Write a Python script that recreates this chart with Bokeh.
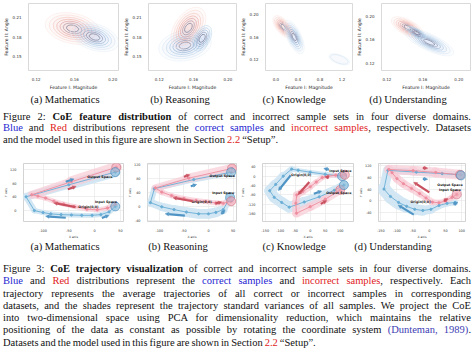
from bokeh.plotting import figure
from bokeh.layouts import column, row
from bokeh.models import Range1d, FixedTicker, Div, Arrow, NormalHead, PrintfTickFormatter
from bokeh.core.properties import value
from bokeh.embed import file_html
from bokeh.resources import INLINE

# ---------------- Figure 2 data (KDE contour blobs, outermost ellipse) ----------------
# (kind, cx, cy, width, height, angle_deg, first_level, last_level)
kde_math = [("red", 0.158, 0.193, 0.058, 0.046, -12, 0, 7),
            ("blue", 0.181, 0.180, 0.052, 0.040, -18, 0, 7)]
kde_reason = [("blue", 0.150, 0.167, 0.062, 0.046, 10, 0, 7),
              ("red", 0.154, 0.194, 0.054, 0.042, 55, 0, 7),
              ("blue", 0.170, 0.178, 0.046, 0.034, 62, 2, 7)]
kde_know = [("red", 0.13, 0.178, 0.50, 0.024, -50, 0, 7),
            ("blue", 0.33, 0.160, 0.66, 0.026, -65, 0, 7),
            ("blue", 1.15, 0.120, 0.40, 0.016, -20, 0, 2)]
kde_under = [("red", 0.143, 0.181, 0.040, 0.026, -28, 0, 7),
             ("blue", 0.167, 0.156, 0.060, 0.028, -25, 0, 7),
             ("blue", 0.153, 0.172, 0.034, 0.020, -30, 2, 7)]
kde_xlim = [(0.112, 0.206), (0.1075, 0.210), (-0.19, 1.39), (0.114, 0.213)]
kde_ylim = [(0.129, 0.231), (0.129, 0.231), (0.10, 0.22), (0.108, 0.222)]
kde_xticks = [[0.12, 0.16, 0.20], [0.12, 0.16, 0.20], [0.0, 0.4, 0.8, 1.2], [0.12, 0.16, 0.20]]
kde_yticks = [[0.15, 0.18, 0.21], [0.15, 0.18, 0.21], [0.12, 0.16, 0.20], [0.12, 0.16, 0.20]]
kde_xfmt = ["%.2f", "%.2f", "%.1f", "%.2f"]
level_scale = [1.0, 0.85, 0.71, 0.58, 0.46, 0.34, 0.22]
red_levels = ["#fce8e4", "#f9d6cf", "#f4c0b6", "#eaa79e", "#d99492", "#a0808f", "#5a5f7c"]
blue_levels = ["#e8f1f8", "#d3e4f2", "#bad4ea", "#9fc2df", "#8aaace", "#6f85a8", "#5a5f7c"]

# ---------------- Figure 3 data (trajectories) ----------------
math_blue_x = [40, 28, 12, -5, -25, -45, -65, -85, -100, -117, -133, -50, 40]
math_blue_y = [12, -4, -12, -14, -14, -13, -12, -10, -6, 0, 40, 75, 112]
math_blue_sd = [8, 6, 6, 6, 6, 6, 6, 6, 6, 7, 8, 11, 14]
math_red_x = [40, 25, 5, -15, -40, -60, -79, -95, -110, -122, -45, 42]
math_red_y = [18, 7, 2, 4, 12, 19, 27, 36, 42, 46, 84, 126]
math_red_sd = [8, 6, 6, 6, 6, 6, 6, 6, 7, 8, 12, 15]
math_arrows = [(-56, 84, -40, 92, "blue"), (-52, 62, -36, 70, "red"), (-37, 10, -79, 22, "red"),
               (-56, -21, -95, -17, "blue"), (14, -22, 28, -14, "blue")]
math_notes = [("Output Space", 10, 98), ("Input Space", 22, 26), ("Origin(0,0)", -12, 11)]
math_ends = [(42, 126, "red"), (40, 112, "blue"), (40, 12, "blue")]

reason_blue_x = [44, 30, 15, 0, -20, -45, -70, -95, -118, -110, -30, 46]
reason_blue_y = [25, -10, -18, -22, -22, -17, -10, -2, 10, 50, 76, 97]
reason_blue_sd = [8, 10, 12, 12, 12, 12, 11, 10, 9, 6, 7, 8]
reason_red_x = [46, 30, 15, -5, -25, -50, -75, -95, -108, -40, 48]
reason_red_y = [14, 8, 9, 13, 16, 22, 30, 40, 52, 80, 108]
reason_red_sd = [8, 6, 6, 6, 6, 6, 6, 7, 8, 10, 12]
reason_arrows = [(-50, 84, -38, 90, "red"), (-36, 57, -24, 62, "blue"), (-32, 14, -72, 24, "red"),
                 (-48, -27, -88, -22, "blue"), (14, 7, 27, 12, "red"), (26, -22, 34, -12, "blue")]
reason_notes = [("Output Space", 28, 86), ("Input Space", 30, 38), ("Origin(0,0)", -14, 13)]
reason_ends = [(48, 108, "red"), (46, 97, "blue"), (44, 25, "blue"), (46, 14, "red")]

know_blue_x = [106, 50, 0, -40, -62, -90, -115, -135, -120, -95, -70, -20, 30, 80, 112]
know_blue_y = [0, 8, 17, 25, 30, 0, -35, -62, -90, -112, -132, -110, -88, -60, -38]
know_blue_sd = [10, 8, 8, 8, 9, 14, 18, 20, 20, 20, 20, 18, 17, 15, 14]
know_red_x = [115, 85, 60, 40, 20, 0, -25, -45, -48, -46, 0, 50, 100]
know_red_y = [6, 4, 0, -6, -25, -45, -65, -80, -115, -158, -130, -98, -58]
know_red_sd = [10, 8, 8, 9, 10, 11, 12, 13, 14, 15, 16, 15, 14]
know_arrows = [(-65, 4, -106, -61, "blue"), (-3, -25, -41, -79, "red"), (12, -75, 38, -63, "blue"),
               (35, -118, 55, -104, "red"), (62, 28, 45, 33, "blue"), (62, -5, 48, -2, "red")]
know_notes = [("Origin(0,0)", -30, 6), ("Input Space", 100, 20), ("Output Space", 95, -72)]
know_ends = [(106, 0, "blue"), (115, 6, "red"), (100, -58, "red"), (112, -38, "blue")]

under_blue_x = [80, 55, 30, 5, -20, -45, -70, -95, -120, -140, -128, -40, 40, 98]
under_blue_y = [-5, -8, -15, -28, -32, -28, -18, -5, 15, 40, 103, 97, 92, 88]
under_blue_sd = [8, 9, 10, 12, 14, 16, 18, 20, 20, 18, 10, 9, 9, 10]
under_red_x = [85, 70, 50, 30, 10, -10, -30, -55, -80, -100, -115, -125, -50, 20, 95]
under_red_y = [22, 12, 0, -6, -4, 10, 25, 42, 58, 75, 95, 106, 102, 96, 88]
under_red_sd = [9, 8, 8, 8, 9, 9, 10, 11, 12, 12, 12, 13, 14, 14, 15]
under_arrows = [(-20, 111, -5, 110, "red"), (-20, 74, -5, 73, "blue"), (0, 29, -48, 63, "red"),
                (-48, -46, -96, -14, "blue"), (45, 0, 58, 8, "red"), (75, -12, 88, -4, "blue")]
under_notes = [("Output Space", 64, 54), ("Input Space", 64, 37), ("Origin(0,0)", -27, -3)]
under_ends = [(95, 88, "red"), (98, 86, "blue"), (85, 22, "red")]

traj_xlim = [(-138, 56), (-124, 57), (-159, 144), (-157, 112)]
traj_ylim = [(-32, 137), (-44, 122), (-193, 54), (-69, 126)]
traj_xticks = [[-100, -50, 0, 50], [-100, -50, 0, 50], [-150, -100, -50, 0, 50, 100], [-150, -100, -50, 0, 50, 100]]
traj_yticks = [[0, 40, 80, 120], [-40, 0, 40, 80, 120], [-160, -120, -80, -40, 0, 40], [-40, 0, 40, 80, 120]]

sub_labels = ["(a) Mathematics", "(b) Reasoning", "(c) Knowledge", "(d) Understanding"]

BLUE_TXT = "#2424d0"
RED_TXT = "#e01b1b"
CITE_TXT = "#3d3db4"
FONT = "DejaVu Sans"


def base_fig(w, h, xlim, ylim, bl, br, bt, bb):
    p = figure(width=w, height=h, x_range=Range1d(*xlim), y_range=Range1d(*ylim),
               output_backend="svg", toolbar_location=None,
               min_border_left=bl, min_border_right=br, min_border_top=bt, min_border_bottom=bb)
    p.background_fill_color = "white"
    p.border_fill_color = "white"
    return p


def style_axes(p, xt, yt, xfmt, yfmt, tick_fs, lab_fs, xlabel, ylabel, outline):
    for ax, ticks, fmt in ((p.xaxis, xt, xfmt), (p.yaxis, yt, yfmt)):
        ax.ticker = FixedTicker(ticks=ticks)
        ax.formatter = PrintfTickFormatter(format=fmt)
        ax.major_label_text_font_size = tick_fs
        ax.major_label_text_font = FONT
        ax.major_label_text_color = "#333333"
        ax.axis_label_text_font_size = lab_fs
        ax.axis_label_text_font = FONT
        ax.axis_label_text_font_style = "normal"
        ax.axis_label_text_color = "#222222"
        ax.axis_line_color = None
        ax.major_tick_line_color = None
        ax.minor_tick_line_color = None
        ax.major_label_standoff = 1
        ax.axis_label_standoff = 1
    p.xaxis.axis_label = xlabel
    p.yaxis.axis_label = ylabel
    p.outline_line_color = outline
    p.outline_line_width = 0.8


def kde_fig(i, blobs, w, h, bl, br, bt, bb):
    p = base_fig(w, h, kde_xlim[i], kde_ylim[i], bl, br, bt, bb)
    style_axes(p, kde_xticks[i], kde_yticks[i], kde_xfmt[i], "%.2f", "4px", "4.6px",
               "Feature I: Magnitude", "Feature II: Angle", "#d0d0d0")
    p.xgrid.visible = False
    p.ygrid.visible = False
    for kind, cx, cy, bw, bh, ang, l0, l1 in blobs:
        cols = red_levels if kind == "red" else blue_levels
        fill = "#f0a095" if kind == "red" else "#8fbedc"
        for k in range(l0, l1):
            s = level_scale[k]
            p.ellipse(x=[cx], y=[cy], width=[bw * s], height=[bh * s], angle=[ang], angle_units="deg",
                      fill_color=fill, fill_alpha=0.04, line_color=cols[k], line_width=0.55)
    return p


def traj_fig(i, bx, by, bsd, rx, ry, rsd, arrows, notes, ends, w, h, bl, br, bt, bb):
    p = base_fig(w, h, traj_xlim[i], traj_ylim[i], bl, br, bt, bb)
    style_axes(p, traj_xticks[i], traj_yticks[i], "%d", "%d", "3.4px", "3px", "X axis", "Y axis", "#c8c8c8")
    p.xaxis.axis_label_standoff = 0
    p.yaxis.axis_label_standoff = 0
    p.xgrid.grid_line_color = "#e4e4e4"
    p.ygrid.grid_line_color = "#e4e4e4"
    p.xgrid.grid_line_width = 0.6
    p.ygrid.grid_line_width = 0.6
    sy = (h - bt - bb) / (traj_ylim[i][1] - traj_ylim[i][0])
    for xs, ys, sds, col, alpha in ((bx, by, bsd, "#d2e7f3", 1.0), (rx, ry, rsd, "#f8ccd5", 0.7)):
        lw = [(sds[k] + sds[k + 1]) * sy for k in range(len(xs) - 1)]
        p.segment(x0=xs[:-1], y0=ys[:-1], x1=xs[1:], y1=ys[1:], line_width=lw,
                  line_color=col, line_alpha=alpha, line_cap="round")
    for xs, ys, col in ((bx, by, "#6aaed6"), (rx, ry, "#ee8d9e")):
        p.line(xs, ys, line_color=col, line_width=0.9)
        p.scatter(xs, ys, size=2.2, color=col)
    for x, y, kind in ends:
        fc = "#f2a3b3" if kind == "red" else "#86bada"
        lc = "#d07888" if kind == "red" else "#4f8fbf"
        p.scatter([x], [y], size=9, fill_color=fc, fill_alpha=0.6, line_color=lc, line_width=0.7)
    for x0, y0, x1, y1, kind in arrows:
        c = "#4f94c4" if kind == "blue" else "#c9505e"
        p.add_layout(Arrow(end=NormalHead(size=3.5, fill_color=c, line_color=c, line_width=0.5),
                           x_start=x0, y_start=y0, x_end=x1, y_end=y1, line_color=c, line_width=2.2))
    p.text(x=[n[1] for n in notes], y=[n[2] for n in notes], text=[n[0] for n in notes],
           text_font=value(FONT), text_font_size="3.3px", text_font_style="bold",
           text_color="#111111", text_align="center", text_baseline="middle")
    return p


def subcap_div(centers, height, top):
    spans = "".join(
        f'<span style="position:absolute;left:{c}px;top:{top}px;transform:translateX(-50%);white-space:nowrap;">{t}</span>'
        for t, c in zip(sub_labels, centers))
    html = (f'<div style="position:relative;width:474px;height:{height}px;font-family:\'Liberation Serif\',serif;'
            f'font-size:10.6px;line-height:14px;color:#111;">{spans}</div>')
    return Div(text=html, width=474, height=height, margin=(0, 0, 0, 0))


def caption_div(lines, height, pad_top, line_h, fs):
    parts = []
    for k, ln in enumerate(lines):
        last = k == len(lines) - 1
        align = "text-align:left;" if last else "text-align:justify;text-align-last:justify;"
        parts.append(f'<div style="{align}height:{line_h}px;line-height:{line_h}px;">{ln}</div>')
    html = (f'<div style="width:468px;margin-left:3px;padding-top:{pad_top}px;font-family:\'Liberation Serif\',serif;'
            f'font-size:{fs}px;color:#111;word-spacing:-0.6px;">' + "".join(parts) + '</div>')
    return Div(text=html, width=474, height=height, margin=(0, 0, 0, 0))


def c(t, col):
    return f'<span style="color:{col}">{t}</span>'


fig2_lines = [
    'Figure 2: <b>CoE feature distribution</b> of correct and incorrect sample sets in four diverse domains.',
    f'{c("Blue", BLUE_TXT)} and {c("Red", RED_TXT)} distributions represent the {c("correct samples", BLUE_TXT)} and {c("incorrect samples", RED_TXT)}, respectively. Datasets',
    f'and the model used in this figure are shown in Section {c("2.2", RED_TXT)} \u201cSetup\u201d.',
]
fig3_lines = [
    'Figure 3: <b>CoE trajectory visualization</b> of correct and incorrect sample sets in four diverse domains.',
    f'{c("Blue", BLUE_TXT)} and {c("Red", RED_TXT)} distributions represent the {c("correct samples", BLUE_TXT)} and {c("incorrect samples", RED_TXT)}, respectively. Each',
    'trajectory represents the average trajectories of all correct or incorrect samples in corresponding',
    'datasets, and the shades represent the trajectory standard variances of all samples. We project the CoE',
    'into two-dimensional space using PCA for dimensionality reduction, which maintains the relative',
    f'positioning of the data as constant as possible by rotating the coordinate system {c("(Dunteman, 1989)", CITE_TXT)}.',
    f'Datasets and the model used in this figure are shown in Section {c("2.2", RED_TXT)} \u201cSetup\u201d.',
]

row1 = row(
    kde_fig(0, kde_math, 120, 92, 25, 2, 3, 12),
    kde_fig(1, kde_reason, 117, 92, 18, 1, 3, 12),
    kde_fig(2, kde_know, 116, 92, 16, 1, 3, 12),
    kde_fig(3, kde_under, 121, 92, 16, 4, 3, 12),
    spacing=0)

row2 = row(
    traj_fig(0, math_blue_x, math_blue_y, math_blue_sd, math_red_x, math_red_y, math_red_sd,
             math_arrows, math_notes, math_ends, 124, 94, 22, 1, 17, 9),
    traj_fig(1, reason_blue_x, reason_blue_y, reason_blue_sd, reason_red_x, reason_red_y, reason_red_sd,
             reason_arrows, reason_notes, reason_ends, 114, 94, 13, 2, 17, 9),
    traj_fig(2, know_blue_x, know_blue_y, know_blue_sd, know_red_x, know_red_y, know_red_sd,
             know_arrows, know_notes, know_ends, 117, 94, 12, 2, 17, 9),
    traj_fig(3, under_blue_x, under_blue_y, under_blue_sd, under_red_x, under_red_y, under_red_sd,
             under_arrows, under_notes, under_ends, 119, 94, 9, 9, 17, 9),
    spacing=0)

page = column(
    row1,
    subcap_div([65, 180, 294, 408], 15, 1),
    caption_div(fig2_lines, 39, 4, 11.3, 10.5),
    row2,
    subcap_div([65, 178, 294, 393], 22, 0),
    caption_div(fig3_lines, 91, 1, 12.3, 10.5),
    spacing=0)

open("out.html", "w").write(file_html(page, INLINE))
